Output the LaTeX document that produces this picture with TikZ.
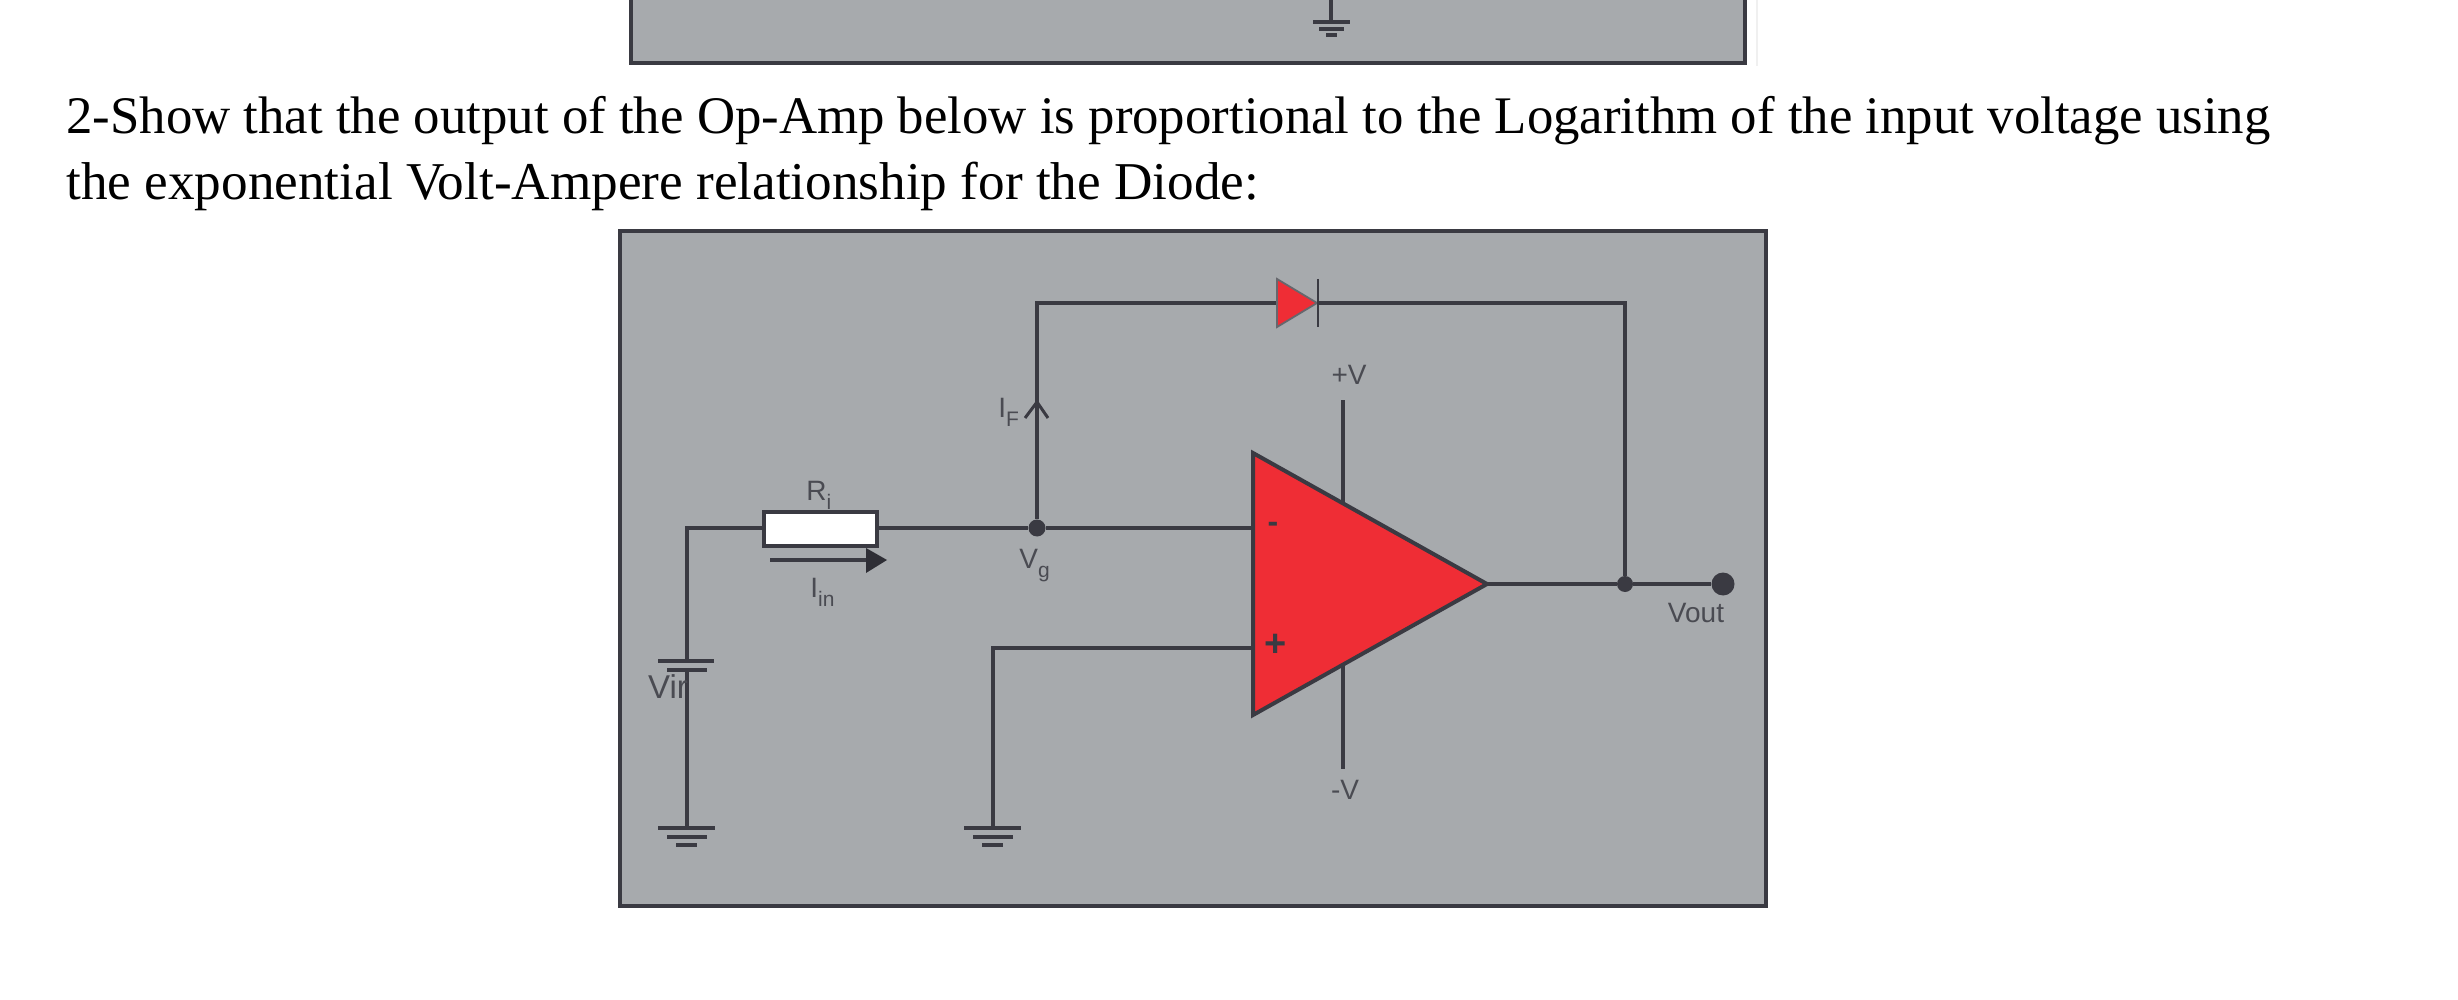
\documentclass[tikz,border=0pt]{standalone}
\usepackage{fontspec}
\setmainfont{Liberation Serif}
\newfontfamily\labelfont{Liberation Sans}
\definecolor{panel}{HTML}{A7AAAD}
\definecolor{ink}{HTML}{3A3A42}
\definecolor{opred}{HTML}{EF2D35}
\newcommand\lowsub[1]{\raisebox{-4.5pt}{\fontsize{10.5}{10.5}\selectfont #1}}
\begin{document}
\begin{tikzpicture}[x=0.5pt,y=-0.5pt,
  frame/.style={fill=panel,draw=ink,line width=2pt},
  wire/.style={draw=ink,line width=2pt},
  dot/.style={circle,fill=ink,inner sep=0pt,minimum size=#1},
  lbl/.style={font=\labelfont\fontsize{14}{14}\selectfont,text=ink!85!panel,inner sep=0pt},
  body/.style={font=\fontsize{26.4}{26.4}\selectfont,anchor=base west,inner sep=0pt,text=black}]
\useasboundingbox (0,0) rectangle (2458,1000);
\fill[white] (0,0) rectangle (2458,1000);
% upper cropped panel
\draw[frame] (631,-10) rectangle (1745,63);
\draw[draw=black!6,line width=0.6pt] (1757,0) -- (1757,66);
\coordinate (gt) at (1331,-5);
\coordinate (gt0) at (1331,22);
\draw[wire] (gt) -- (gt0);
\draw[wire] (1313,22) -- (1350,22);
\draw[wire] (1319,29) -- (1344,29);
\draw[wire] (1326,35) -- (1337,35);
% text
\node[body] (line1) at (66,134) {2-Show that the output of the Op-Amp below is proportional to the Logarithm of the input voltage using};
\node[body,font=\fontsize{26.6}{26.6}\selectfont] (line2) at (66,200) {the exponential Volt-Ampere relationship for the Diode:};
% main panel
\draw[frame] (620,231) rectangle (1766,906);
% coordinates
\coordinate (vtop) at (687,528);
\coordinate (bat1) at (687,661);
\coordinate (bat2) at (687,670);
\coordinate (g1) at (687,828);
\coordinate (g2) at (993,828);
\coordinate (p2) at (993,648);
\coordinate (ninv) at (1253,528);
\coordinate (pinv) at (1253,648);
\coordinate (A) at (1253,453);
\coordinate (B) at (1253,715);
\coordinate (C) at (1487,584);
\coordinate (ftl) at (1037,303);
\coordinate (ftr) at (1625,303);
\coordinate (da) at (1277,303);
\coordinate (dk) at (1318,303);
\coordinate (vp) at (1343,400);
\coordinate (vpe) at (1343,505);
\coordinate (vn) at (1343,769);
\coordinate (vne) at (1343,660);
\coordinate (ar1) at (770,560);
\coordinate (ar2) at (866,560);
% resistor and dots
\node[draw=ink,fill=white,line width=2pt,minimum width=56.5pt,minimum height=17pt,inner sep=0pt] (R) at (820.5,529) {};
\node[dot=8.5pt] (J1) at (1037,528) {};
\node[dot=8pt] (J2) at (1625,584) {};
\node[dot=11.5pt] (OUT) at (1723,584) {};
% wires
\draw[wire] (bat1) -- (vtop) -- (R.west |- vtop);
\draw[wire] (bat2) -- (g1);
\draw[wire] (R.east |- J1) -- (J1);
\draw[wire] (J1) -- (ninv);
\draw[wire] (J1) -- (ftl) -- (da);
\draw[wire] (dk) -- (ftr) -- (J2);
\draw[wire] (C) -- (J2) -- (OUT);
\draw[wire] (g2) -- (p2) -- (pinv);
\draw[wire] (vp) -- (vpe);
\draw[wire] (vne) -- (vn);
% battery
\draw[wire] (658,661) -- (714,661);
\draw[wire] (667,670) -- (707,670);
% grounds
\foreach \gx in {687,993}{
  \draw[wire] (\gx-29,828) -- (\gx+28,828);
  \draw[wire] (\gx-20,837) -- (\gx+20,837);
  \draw[wire] (\gx-11,845) -- (\gx+10,845);
}
% arrow
\draw[draw=ink,line width=2.2pt] (ar1) -- (ar2);
\fill[ink!80!black] (866,548) -- (887,560) -- (866,573) -- cycle;
% If arrow
\draw[draw=ink,line width=1.5pt] (1025,418) -- (1037,402) -- (1048,418);
% opamp
\fill[opred] (A) -- (C) -- (B) -- cycle;
\draw[draw=ink,line width=2pt,line join=miter] (A) -- (C) -- (B) -- cycle;
% diode
\draw[fill=opred,draw=ink!60!panel,line width=0.9pt] (1277,279) -- (1317,303) -- (1277,327) -- cycle;
\draw[draw=ink,line width=0.8pt] (1318,279) -- (1318,327);
% labels
\node[lbl,anchor=base west] (tRi) at (806,500) {R\lowsub{i}};
\node[lbl,anchor=base west] (tIin) at (810,597) {I\lowsub{in}};
\node[lbl,anchor=base west] (tVg) at (1019,568) {V\lowsub{g}};
\node[lbl,anchor=base west] (tIF) at (998,417) {I\lowsub{F}};
\node[lbl,font=\labelfont\fontsize{16.5}{16.5}\selectfont] (tVir) at (668,687) {Vir};
\node[lbl] (tVp) at (1349,375) {+V};
\node[lbl] (tVn) at (1345,790) {-V};
\node[lbl] (tVout) at (1696,613) {Vout};
\node[font=\labelfont\bfseries\fontsize{16}{16}\selectfont,text=ink,inner sep=0pt] (tm) at (1273,527) {-};
\node[font=\labelfont\bfseries\fontsize{19}{19}\selectfont,text=ink,inner sep=0pt] (tp) at (1276,645) {+};
\end{tikzpicture}
\end{document}
